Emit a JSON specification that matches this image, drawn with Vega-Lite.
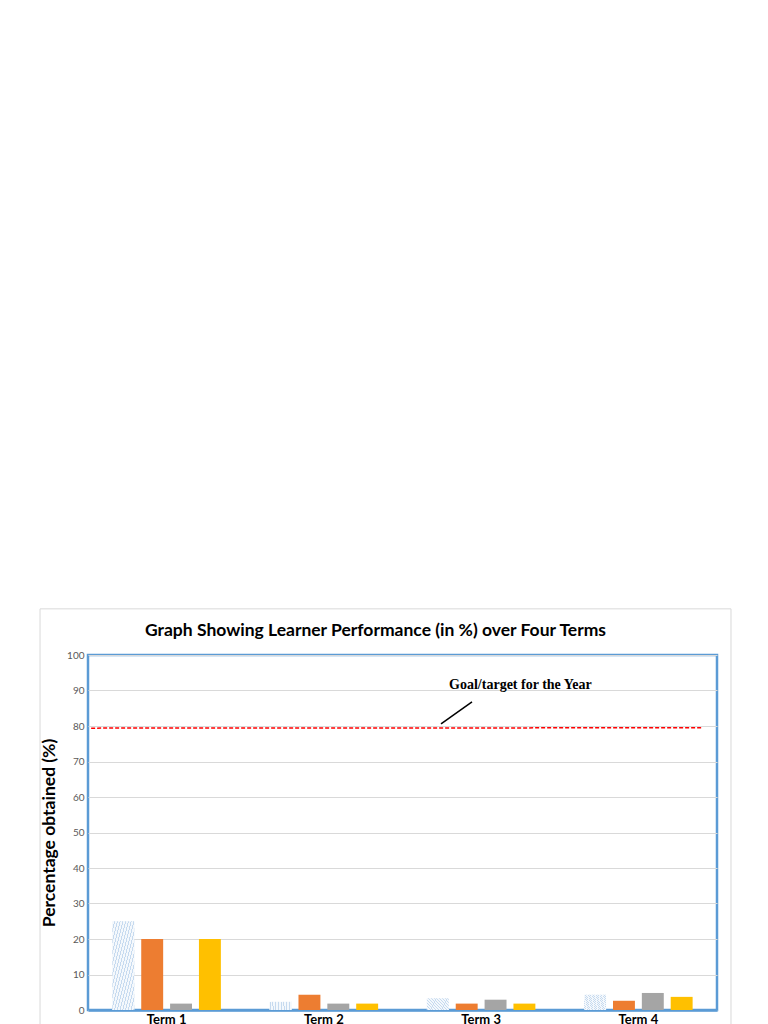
{
  "$schema": "https://vega.github.io/schema/vega-lite/v6.json",
  "width": 629,
  "height": 355,
  "autosize": "none",
  "padding": {"left": 88, "top": 655, "right": 51, "bottom": 14},
  "title": {
    "text": "Graph Showing Learner Performance (in %) over Four Terms",
    "font": "Lato",
    "fontSize": 17.5,
    "fontWeight": "bold",
    "color": "#000000",
    "frame": "group",
    "anchor": "middle",
    "baseline": "alphabetic",
    "offset": -45,
    "dx": -27
  },
  "datasets": {
    "scores": [
      {"term": "Term 1", "series": "Series 1", "value": 25},
      {"term": "Term 1", "series": "Series 2", "value": 20},
      {"term": "Term 1", "series": "Series 3", "value": 1.8},
      {"term": "Term 1", "series": "Series 4", "value": 20},
      {"term": "Term 2", "series": "Series 1", "value": 2.3},
      {"term": "Term 2", "series": "Series 2", "value": 4.3},
      {"term": "Term 2", "series": "Series 3", "value": 1.8},
      {"term": "Term 2", "series": "Series 4", "value": 1.8},
      {"term": "Term 3", "series": "Series 1", "value": 3.3},
      {"term": "Term 3", "series": "Series 2", "value": 1.8},
      {"term": "Term 3", "series": "Series 3", "value": 2.9},
      {"term": "Term 3", "series": "Series 4", "value": 1.8},
      {"term": "Term 4", "series": "Series 1", "value": 4.3},
      {"term": "Term 4", "series": "Series 2", "value": 2.6},
      {"term": "Term 4", "series": "Series 3", "value": 4.8},
      {"term": "Term 4", "series": "Series 4", "value": 3.7}
    ],
    "frame": [{"x": -0.305, "x2": 4.089, "y": 113, "y2": -10}],
    "goal": [{"x": 0.02, "x2": 3.905, "y": 79.4, "y2": 79.5}],
    "pointer": [{"x": 2.245, "x2": 2.442, "y": 80.6, "y2": 86.8}],
    "note": [{"x": 2.75, "y": 91.5, "label": "Goal/target for the Year"}]
  },
  "layer": [
    {
      "layer": [
        {
          "data": {"name": "scores"},
          "mark": {"type": "bar"},
          "encoding": {
            "x": {
              "field": "term",
              "type": "nominal",
              "title": null,
              "scale": {"paddingInner": 0.31, "paddingOuter": 0.155},
              "axis": {
                "labelAngle": 0,
                "labelFont": "Lato",
                "labelFontSize": 13,
                "labelFontWeight": "bold",
                "labelColor": "#000000",
                "labelPadding": 3,
                "ticks": false,
                "domainColor": "#5b9bd5",
                "domainWidth": 2.5
              }
            },
            "xOffset": {
              "field": "series",
              "type": "nominal",
              "scale": {"paddingInner": 0.24, "paddingOuter": 0}
            },
            "y": {
              "field": "value",
              "type": "quantitative",
              "title": "Percentage  obtained  (%)",
              "scale": {"domain": [0, 100], "nice": false},
              "axis": {"values": [0, 10, 20, 30, 40, 50, 60, 70, 80, 90, 100]}
            },
            "color": {
              "field": "series",
              "type": "nominal",
              "legend": null,
              "scale": {
                "domain": ["Series 1", "Series 2", "Series 3", "Series 4"],
                "range": ["#f4f8fc", "#ed7d31", "#a5a5a5", "#ffc000"]
              }
            }
          }
        },
        {
          "data": {"name": "scores"},
          "transform": [{"filter": "datum.series == 'Series 1'"}],
          "mark": {
            "type": "bar",
            "fill": {
              "gradient": "linear",
              "x1": 0, "y1": 0, "x2": 1, "y2": 1,
              "stops": [
                {"offset": 0, "color": "#f4f8fc"}, {"offset": 0.04, "color": "#f4f8fc"}, {"offset": 0.04, "color": "#c6daef"}, {"offset": 0.0625, "color": "#c6daef"},
                {"offset": 0.0625, "color": "#f4f8fc"}, {"offset": 0.1025, "color": "#f4f8fc"}, {"offset": 0.1025, "color": "#c6daef"}, {"offset": 0.125, "color": "#c6daef"},
                {"offset": 0.125, "color": "#f4f8fc"}, {"offset": 0.165, "color": "#f4f8fc"}, {"offset": 0.165, "color": "#c6daef"}, {"offset": 0.1875, "color": "#c6daef"},
                {"offset": 0.1875, "color": "#f4f8fc"}, {"offset": 0.2275, "color": "#f4f8fc"}, {"offset": 0.2275, "color": "#c6daef"}, {"offset": 0.25, "color": "#c6daef"},
                {"offset": 0.25, "color": "#f4f8fc"}, {"offset": 0.29, "color": "#f4f8fc"}, {"offset": 0.29, "color": "#c6daef"}, {"offset": 0.3125, "color": "#c6daef"},
                {"offset": 0.3125, "color": "#f4f8fc"}, {"offset": 0.3525, "color": "#f4f8fc"}, {"offset": 0.3525, "color": "#c6daef"}, {"offset": 0.375, "color": "#c6daef"},
                {"offset": 0.375, "color": "#f4f8fc"}, {"offset": 0.415, "color": "#f4f8fc"}, {"offset": 0.415, "color": "#c6daef"}, {"offset": 0.4375, "color": "#c6daef"},
                {"offset": 0.4375, "color": "#f4f8fc"}, {"offset": 0.4775, "color": "#f4f8fc"}, {"offset": 0.4775, "color": "#c6daef"}, {"offset": 0.5, "color": "#c6daef"},
                {"offset": 0.5, "color": "#f4f8fc"}, {"offset": 0.54, "color": "#f4f8fc"}, {"offset": 0.54, "color": "#c6daef"}, {"offset": 0.5625, "color": "#c6daef"},
                {"offset": 0.5625, "color": "#f4f8fc"}, {"offset": 0.6025, "color": "#f4f8fc"}, {"offset": 0.6025, "color": "#c6daef"}, {"offset": 0.625, "color": "#c6daef"},
                {"offset": 0.625, "color": "#f4f8fc"}, {"offset": 0.665, "color": "#f4f8fc"}, {"offset": 0.665, "color": "#c6daef"}, {"offset": 0.6875, "color": "#c6daef"},
                {"offset": 0.6875, "color": "#f4f8fc"}, {"offset": 0.7275, "color": "#f4f8fc"}, {"offset": 0.7275, "color": "#c6daef"}, {"offset": 0.75, "color": "#c6daef"},
                {"offset": 0.75, "color": "#f4f8fc"}, {"offset": 0.79, "color": "#f4f8fc"}, {"offset": 0.79, "color": "#c6daef"}, {"offset": 0.8125, "color": "#c6daef"},
                {"offset": 0.8125, "color": "#f4f8fc"}, {"offset": 0.8525, "color": "#f4f8fc"}, {"offset": 0.8525, "color": "#c6daef"}, {"offset": 0.875, "color": "#c6daef"},
                {"offset": 0.875, "color": "#f4f8fc"}, {"offset": 0.915, "color": "#f4f8fc"}, {"offset": 0.915, "color": "#c6daef"}, {"offset": 0.9375, "color": "#c6daef"},
                {"offset": 0.9375, "color": "#f4f8fc"}, {"offset": 0.9775, "color": "#f4f8fc"}, {"offset": 0.9775, "color": "#c6daef"}, {"offset": 1, "color": "#c6daef"}
              ]
            }
          },
          "encoding": {
            "x": {"field": "term", "type": "nominal"},
            "xOffset": {"field": "series", "type": "nominal"},
            "y": {"field": "value", "type": "quantitative", "scale": {"domain": [0, 100], "nice": false}, "axis": {"values": [0, 10, 20, 30, 40, 50, 60, 70, 80, 90, 100]}}
          }
        }
      ]
    },
    {
      "layer": [
        {
          "data": {"name": "frame"},
          "mark": {"type": "rect", "fill": null, "stroke": "#d9d9d9", "strokeWidth": 1},
          "encoding": {
            "x": {"field": "x", "type": "quantitative", "scale": {"domain": [0, 4], "nice": false, "zero": false}, "axis": null},
            "x2": {"field": "x2"},
            "y": {"field": "y", "type": "quantitative", "scale": {"domain": [0, 100], "nice": false}, "axis": {"values": [0, 10, 20, 30, 40, 50, 60, 70, 80, 90, 100]}},
            "y2": {"field": "y2"}
          }
        },
        {
          "data": {"name": "goal"},
          "mark": {"type": "rule", "color": "#ff0000", "strokeWidth": 1.5, "strokeDash": [4, 2]},
          "encoding": {
            "x": {"field": "x", "type": "quantitative"},
            "x2": {"field": "x2"},
            "y": {"field": "y", "type": "quantitative", "axis": {"values": [0, 10, 20, 30, 40, 50, 60, 70, 80, 90, 100]}},
            "y2": {"field": "y2"}
          }
        },
        {
          "data": {"name": "pointer"},
          "mark": {"type": "rule", "color": "#000000", "strokeWidth": 1.5},
          "encoding": {
            "x": {"field": "x", "type": "quantitative"},
            "x2": {"field": "x2"},
            "y": {"field": "y", "type": "quantitative", "axis": {"values": [0, 10, 20, 30, 40, 50, 60, 70, 80, 90, 100]}},
            "y2": {"field": "y2"}
          }
        },
        {
          "data": {"name": "note"},
          "mark": {"type": "text", "font": "Liberation Serif", "fontSize": 14, "fontWeight": "bold", "color": "#000000", "align": "center", "baseline": "middle"},
          "encoding": {
            "x": {"field": "x", "type": "quantitative"},
            "y": {"field": "y", "type": "quantitative", "axis": {"values": [0, 10, 20, 30, 40, 50, 60, 70, 80, 90, 100]}},
            "text": {"field": "label"}
          }
        }
      ]
    }
  ],
  "resolve": {"scale": {"x": "independent"}, "axis": {"x": "independent"}},
  "config": {
    "view": {"stroke": "#5b9bd5", "strokeWidth": 2.5},
    "axisY": {
      "labelFont": "Lato",
      "labelFontSize": 10,
      "labelColor": "#595959",
      "labelPadding": 4,
      "ticks": false,
      "domain": false,
      "gridColor": "#d9d9d9",
      "gridWidth": 1,
      "titleFont": "Lato",
      "titleFontSize": 17.5,
      "titleFontWeight": "bold",
      "titleColor": "#000000",
      "titlePadding": 8
    },
    "background": "#ffffff"
  }
}
